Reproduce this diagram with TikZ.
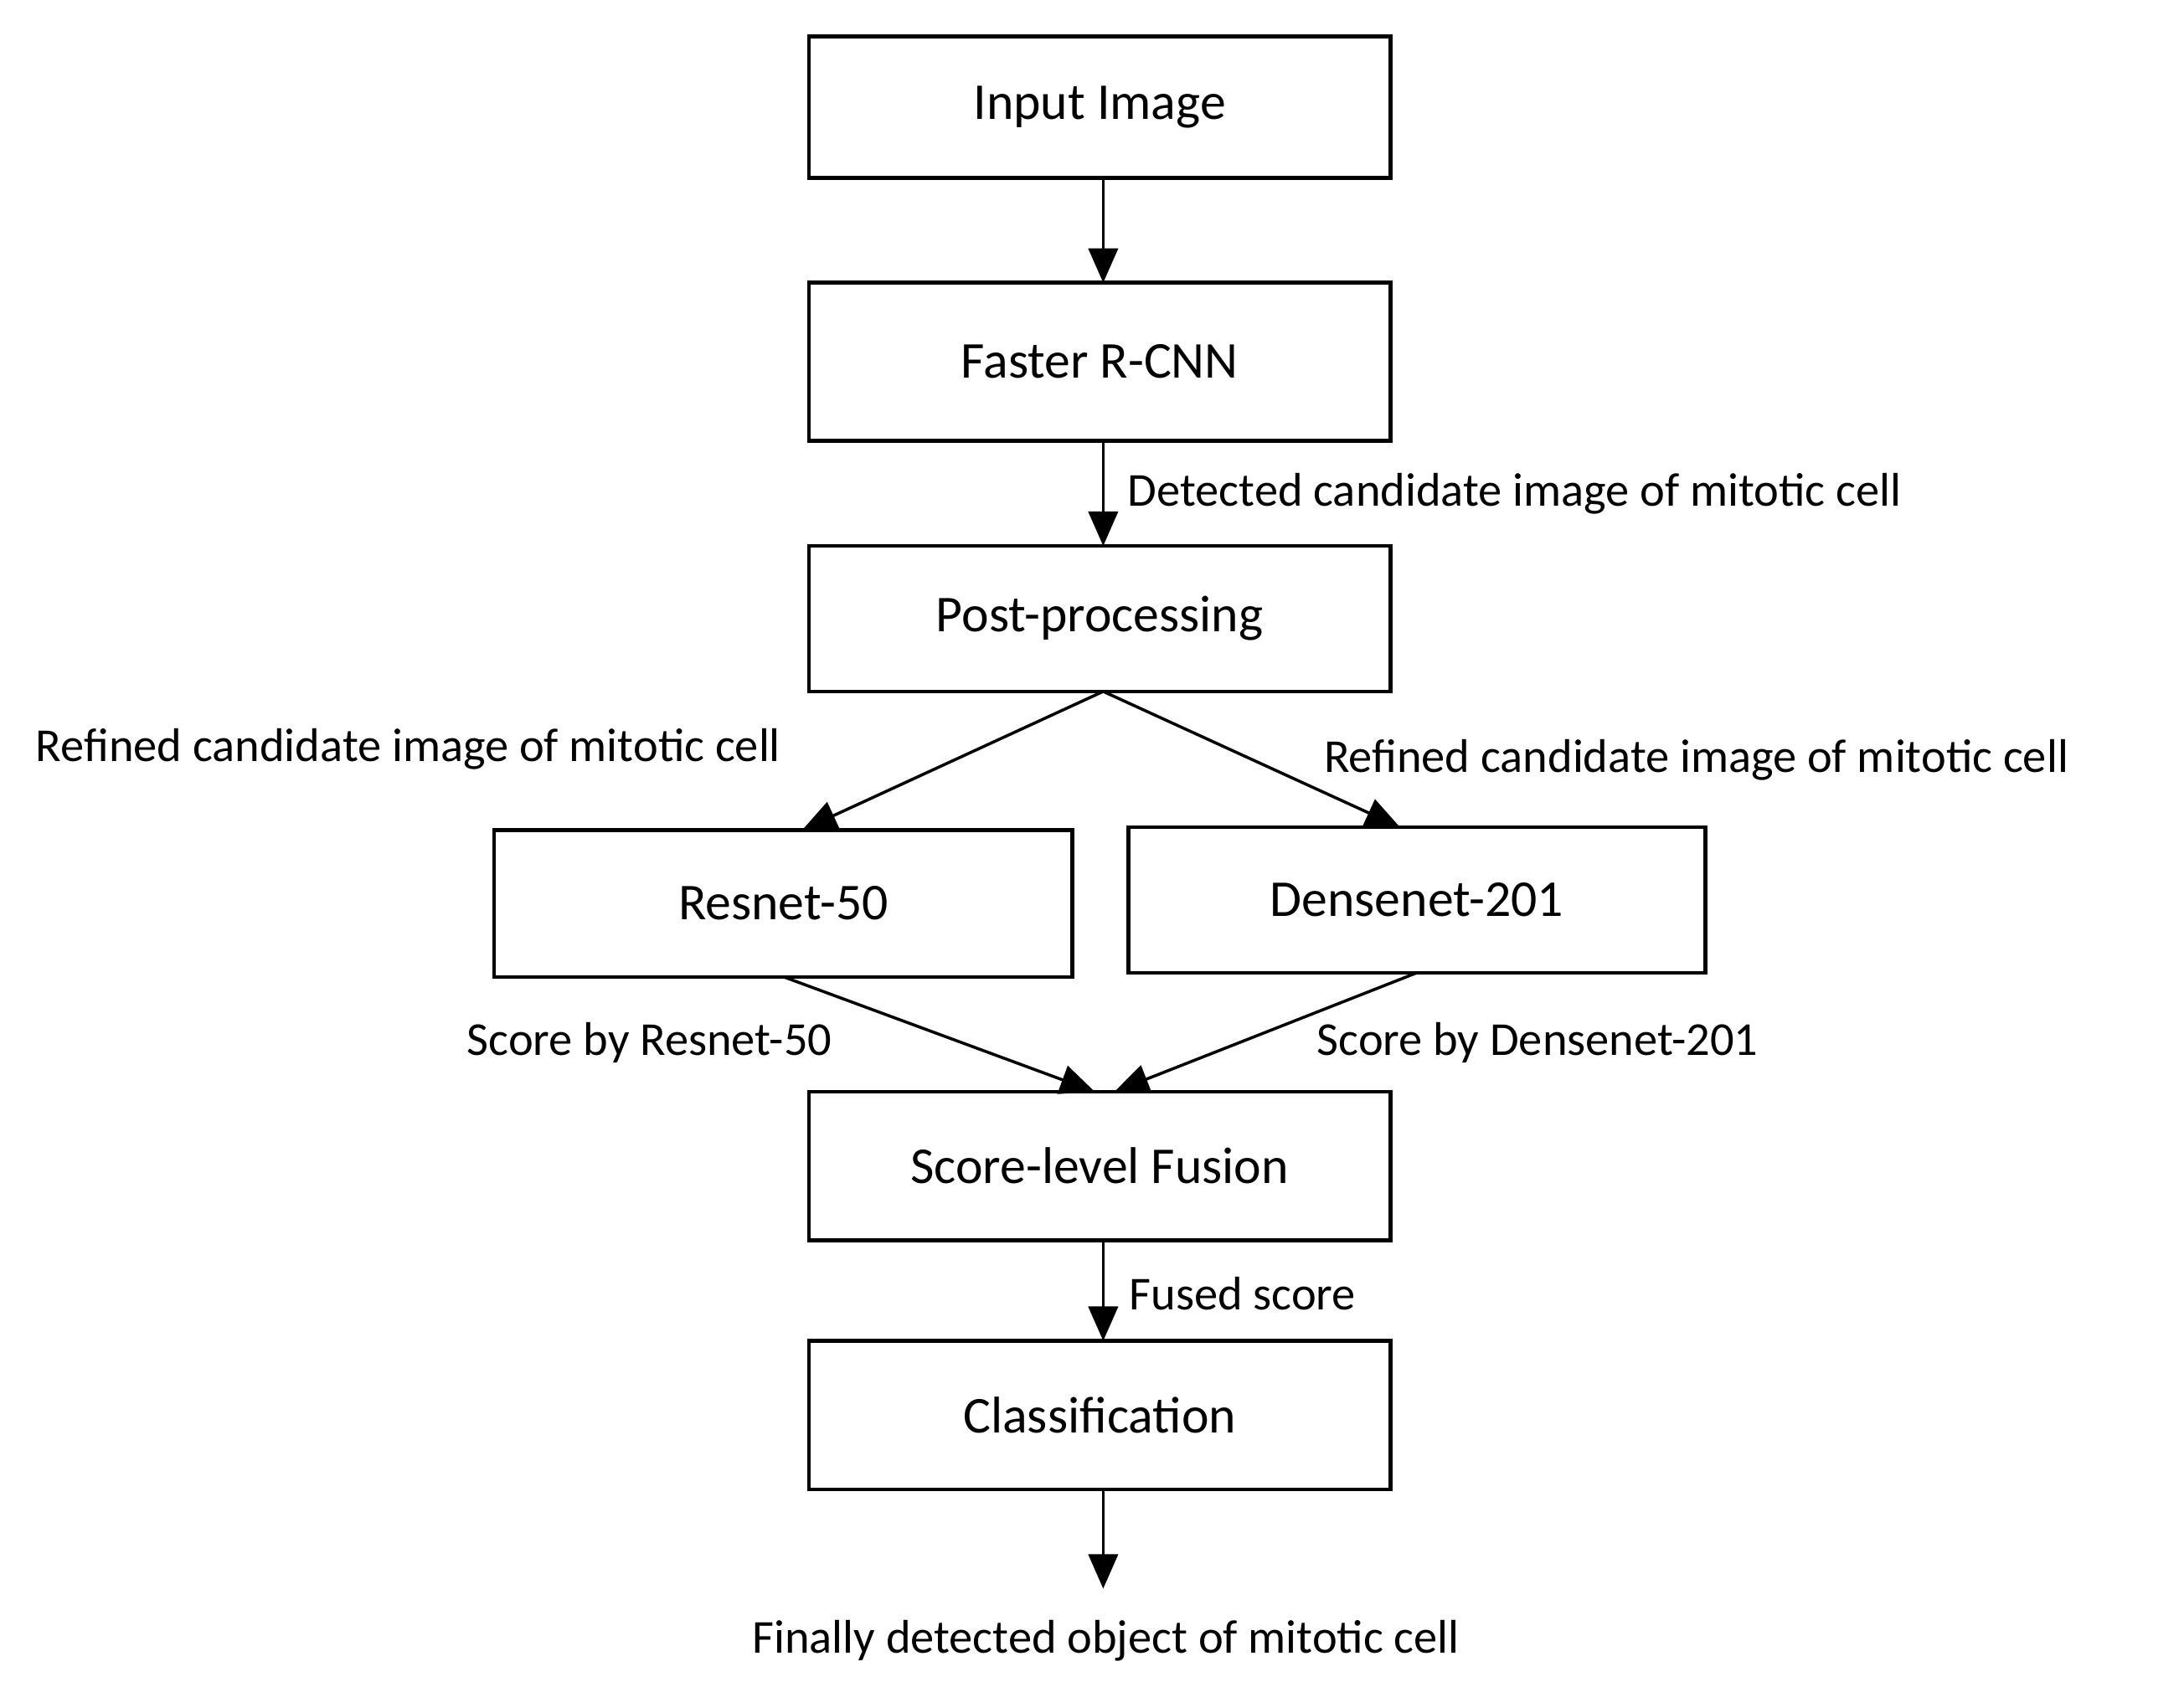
\documentclass[tikz,border=0pt]{standalone}
\usepackage{fontspec}
\setmainfont{Carlito}
\usetikzlibrary{arrows.meta}
\begin{document}
\begin{tikzpicture}[x=0.01cm,y=-0.01cm,
  box/.style={draw,line width=0.8pt,minimum width=4.15cm,minimum height=1.04cm,inner sep=0pt,font=\fontsize{10.5}{12}\selectfont},
  lab/.style={inner sep=0pt,font=\fontsize{9.6}{11}\selectfont},
  arr/.style={line width=0.6pt,-{Triangle[length=7pt,width=6pt]}}]
\useasboundingbox (0,0) rectangle (1560,1205);
\node[box,minimum height=1.01cm] (in) at (785.5,76.5) {Input Image};
\node[box,minimum height=1.13cm] (fr) at (785.5,258.5) {Faster R-CNN};
\node[box] (pp) at (785.5,442) {Post-processing};
\node[box,minimum width=4.13cm,minimum height=1.05cm] (rn) at (559.5,645.5) {Resnet-50};
\node[box,minimum width=4.12cm] (dn) at (1012,643) {Densenet-201};
\node[box,minimum height=1.06cm] (sf) at (785.5,833) {Score-level Fusion};
\node[box,minimum height=1.06cm] (cl) at (785.5,1011) {Classification};
\node[lab] (fin) at (790,1172) {Finally detected object of mitotic cell};
\coordinate (rnt) at (573,593);
\coordinate (dnt) at (1000,591);
\coordinate (sfl) at (782,780);
\coordinate (sfr) at (796,780);
\coordinate (clb) at (788,1135);
\draw[arr] (788,127) -- (788,202);
\draw[arr] (788,315) -- (788,390);
\draw[arr] (788,494) -- (rnt);
\draw[arr] (788,494) -- (dnt);
\draw[arr] (560,698) -- (sfl);
\draw[arr] (1012,695) -- (sfr);
\draw[arr] (788,886) -- (788,958);
\draw[arr] (788,1064) -- (clb);
\node[lab,anchor=west] (l1) at (805,353) {Detected candidate image of mitotic cell};
\node[lab,anchor=west] (l2) at (25,535) {Refined candidate image of mitotic cell};
\node[lab,anchor=west] (l3) at (945,543) {Refined candidate image of mitotic cell};
\node[lab,anchor=west] (l4) at (333,745) {Score by Resnet-50};
\node[lab,anchor=west] (l5) at (940,745) {Score by Densenet-201};
\node[lab,anchor=west] (l6) at (806,924) {Fused score};
\end{tikzpicture}
\end{document}
